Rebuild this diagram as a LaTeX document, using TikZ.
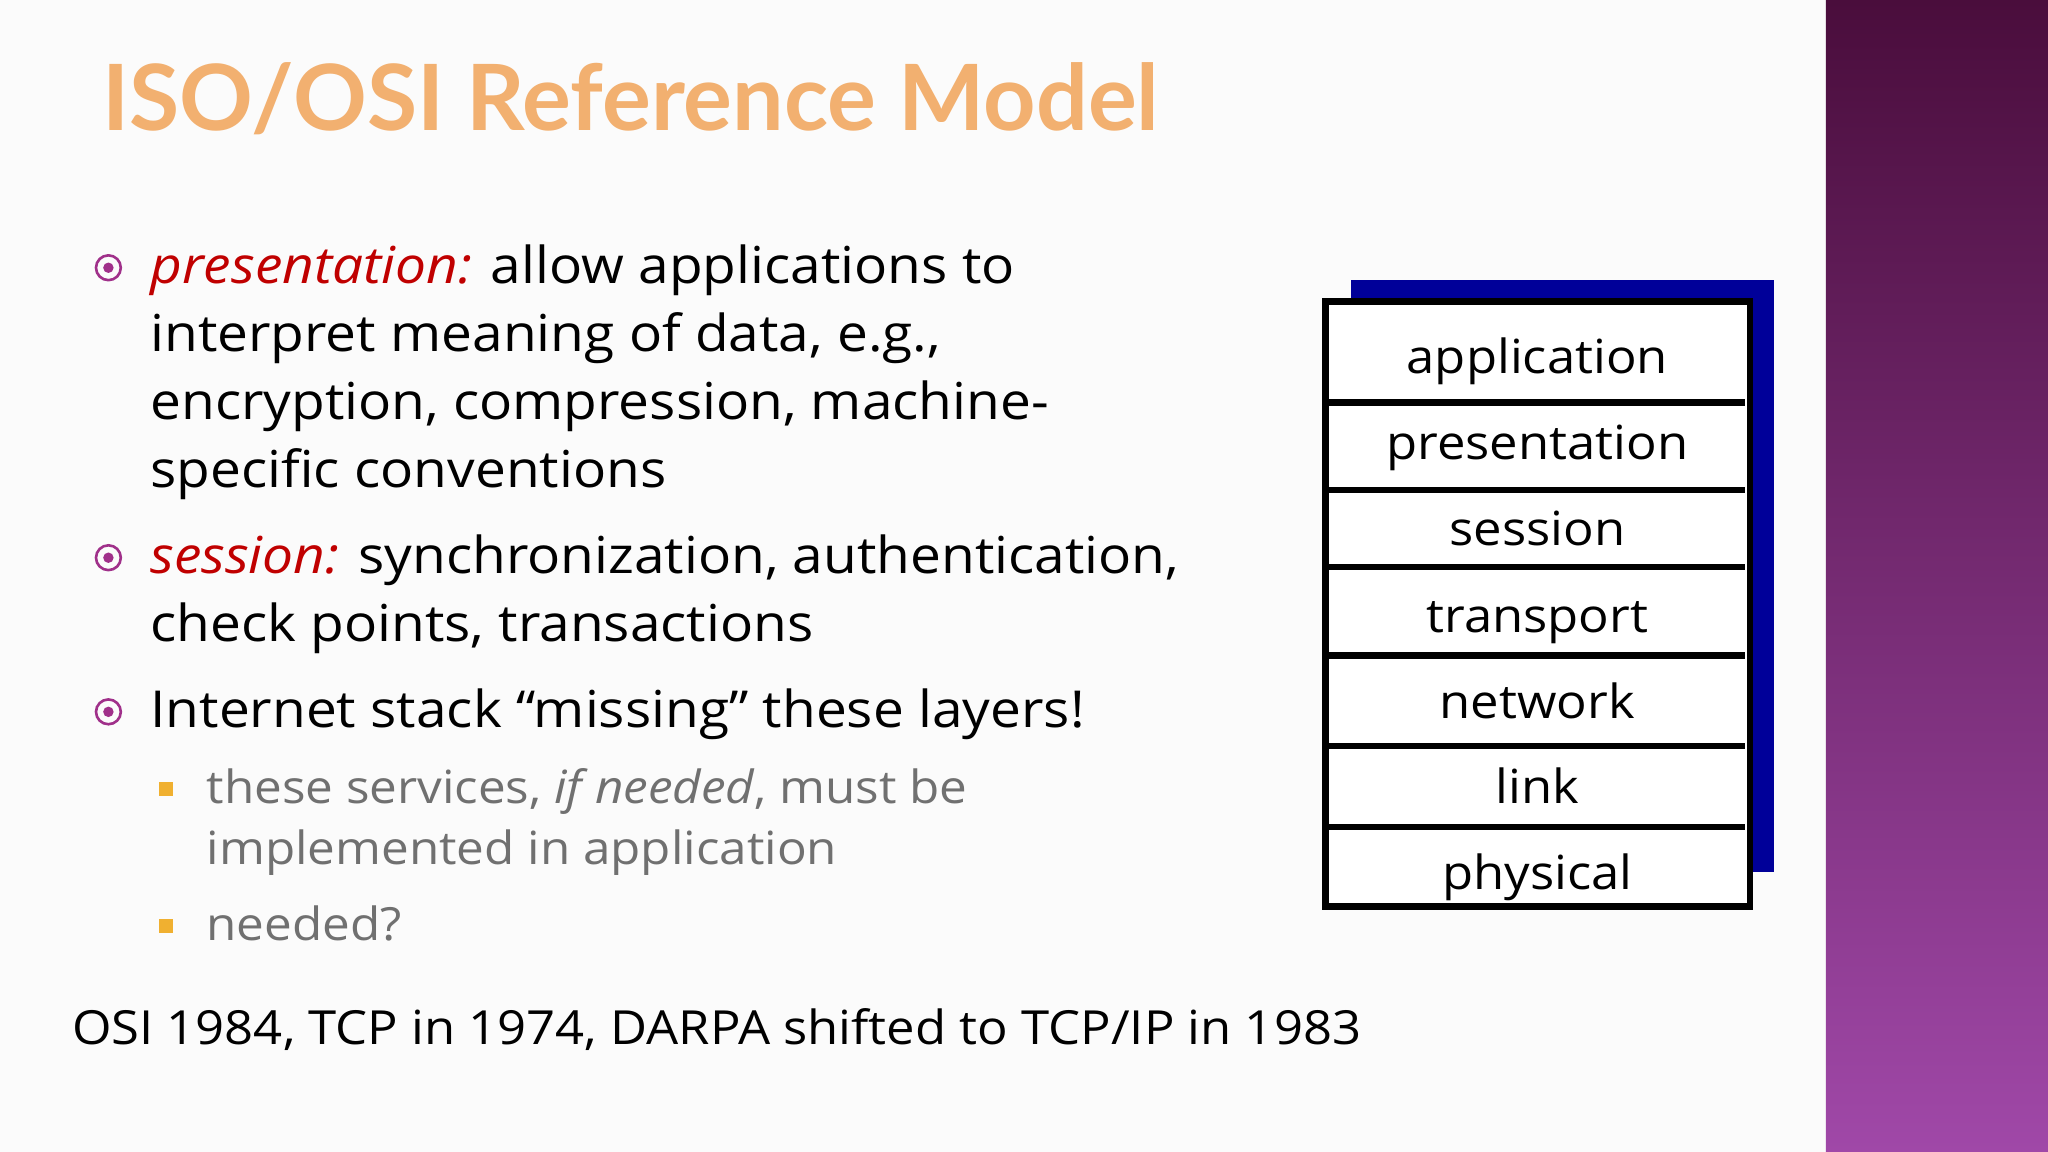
\documentclass[tikz,border=0pt]{standalone}
\usepackage{fontspec}
\setmainfont[FakeStretch=1.08]{Open Sans}
\newfontfamily\titlefont{Lato}
\definecolor{redt}{HTML}{C00000}
\definecolor{greyt}{HTML}{707070}
\definecolor{bul}{HTML}{A0308A}
\definecolor{subb}{HTML}{F0B030}
\definecolor{shadowb}{HTML}{000099}
\definecolor{bandtop}{HTML}{4A0D3C}
\definecolor{bandbot}{HTML}{A048A8}
\definecolor{titlec}{HTML}{F2B070}
\begin{document}
\begin{tikzpicture}[x=1pt,y=-1pt,
  body/.style={anchor=base west,inner sep=0,font=\fontsize{39}{48}\selectfont},
  sub/.style={anchor=base west,inner sep=0,font=\fontsize{35}{44}\selectfont,text=greyt},
  lay/.style={anchor=base,inner sep=0,font=\fontsize{36}{44}\selectfont},
  bulo/.style={circle,draw=bul,line width=2pt,minimum size=19pt,inner sep=0},
  buli/.style={circle,fill=bul,minimum size=8pt,inner sep=0},
  sq/.style={fill=subb,minimum size=11pt,inner sep=0}]
\useasboundingbox (0,0) rectangle (1568,882);
\fill[white!97!gray] (0,0) rectangle (1398,882);
\shade[top color=bandtop, bottom color=bandbot] (1398,0) rectangle (1568,882);
% title
\node[anchor=base west,inner sep=0,font=\titlefont\bfseries\fontsize{70}{80}\selectfont,text=titlec] (title) at (78,100) {ISO/OSI Reference Model};
% bullets
\foreach \n/\y in {b1/205,b2/427,b3/545}{
  \node[bulo] (\n) at (83,\y) {};
  \node[buli] at (\n) {};
}
\node[body] (t1) at (115,217) {\textcolor{redt}{\itshape presentation:} allow applications to};
\node[body] (t2) at (115,269) {interpret meaning of data, e.g.,};
\node[body] (t3) at (115,321) {encryption, compression, machine-};
\node[body] (t4) at (115,373) {specific conventions};
\node[body] (t5) at (115,439) {\textcolor{redt}{\itshape session:} synchronization, authentication,};
\node[body] (t6) at (115,491) {check points, transactions};
\node[body] (t7) at (115,557) {Internet stack “missing” these layers!};
\node[sq] (s1) at (127,604) {};
\node[sq] (s2) at (127,709) {};
\node[sub] (u1) at (158,615) {these services, \textit{if needed}, must be};
\node[sub] (u2) at (158,662) {implemented in application};
\node[sub] (u3) at (158,720) {needed?};
\node[body,font=\fontsize{36}{44}\selectfont] (foot) at (55,800) {OSI 1984, TCP in 1974, DARPA shifted to TCP/IP in 1983};
% stack
\fill[shadowb] (1034,214) rectangle (1358,668);
\fill[white] (1015,231) rectangle (1340,694);
\draw[line width=5pt] (1015,231) rectangle (1340,694);
\foreach \y in {308,375,434,502,571,633}{\draw[line width=5pt] (1015,\y) -- (1336,\y);}
\foreach \n/\t/\y in {l1/application/286,l2/presentation/352,l3/session/418,l4/transport/484,l5/network/550,l6/link/615,l7/physical/681}{
  \node[lay] (\n) at (1177,\y) {\t};
}
\end{tikzpicture}
\end{document}
